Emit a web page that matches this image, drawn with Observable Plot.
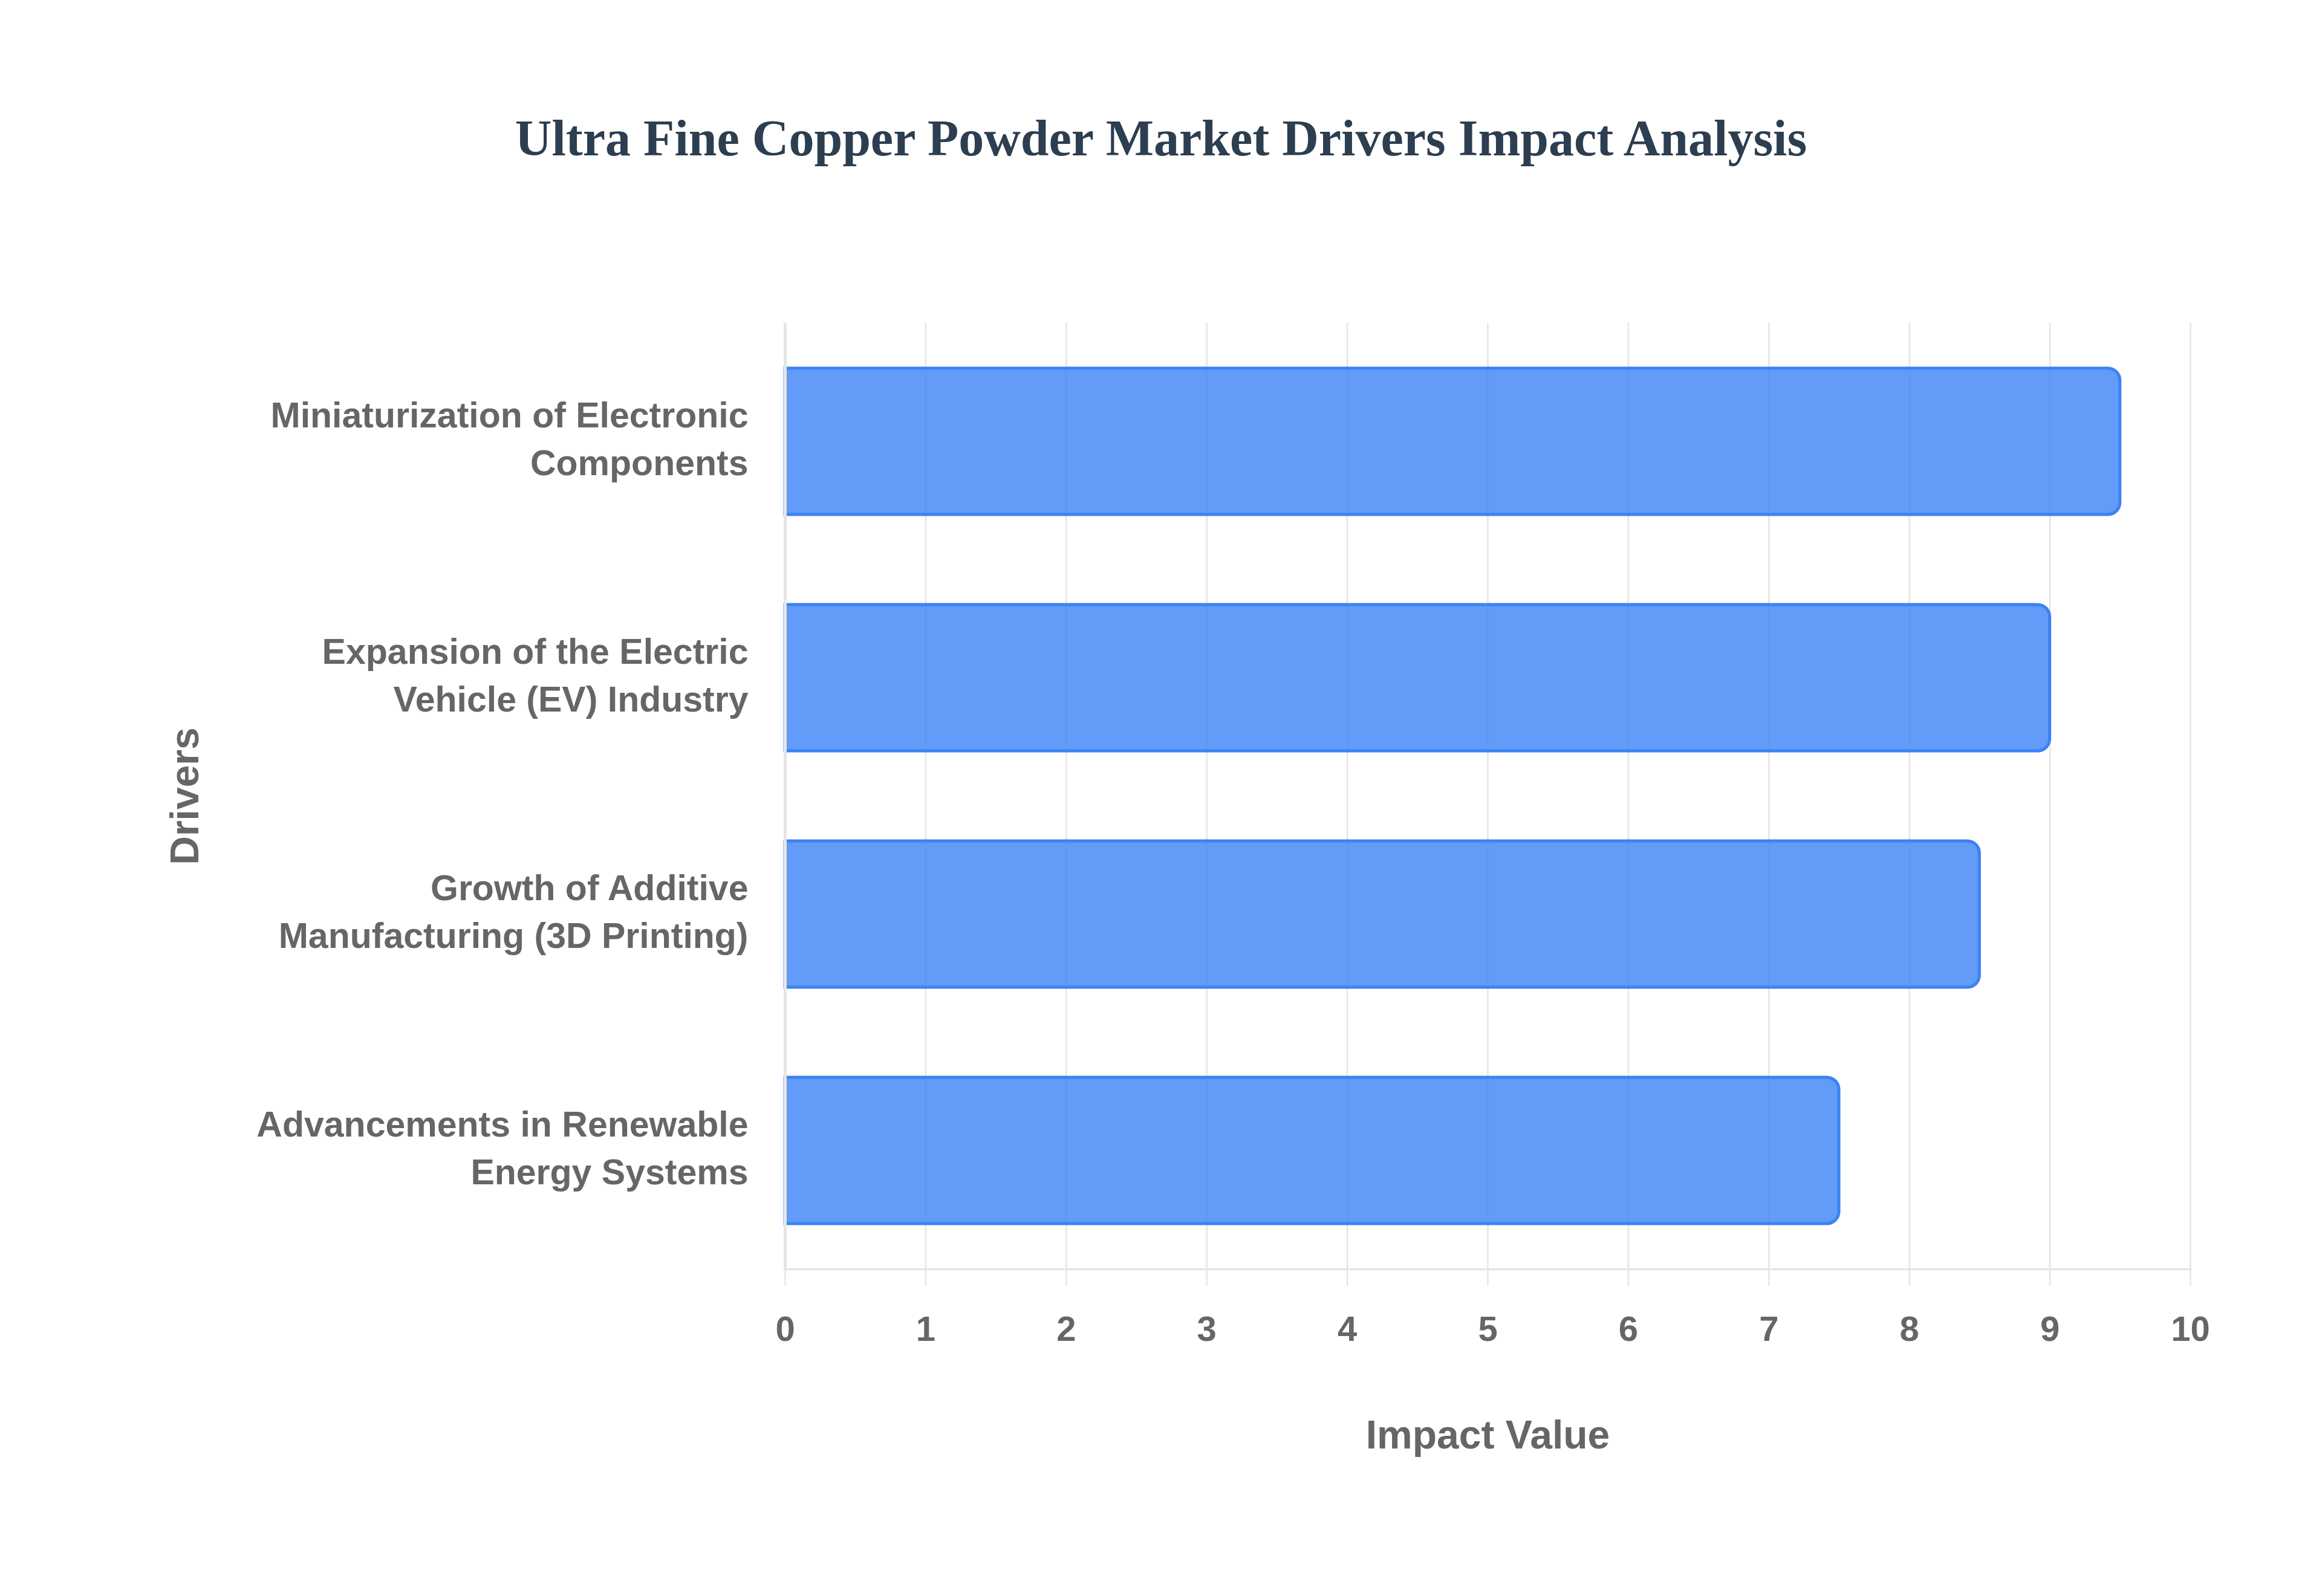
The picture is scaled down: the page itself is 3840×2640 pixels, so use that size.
<!DOCTYPE html>
<html>
<head>
<meta charset="utf-8">
<script src="https://cdn.jsdelivr.net/npm/d3@7"></script>
<script src="https://cdn.jsdelivr.net/npm/@observablehq/plot@0.6"></script>
<style>
  html, body { margin: 0; padding: 0; background: #ffffff; }
  #title {
    width: 3840px; height: 456px;
    display: flex; align-items: center; justify-content: center;
    font-family: "Liberation Serif", "Times New Roman", serif;
    font-weight: bold; font-size: 84px; color: #2c3e50;
  }
</style>
</head>
<body>
<div id="title">Ultra Fine Copper Powder Market Drivers Impact Analysis</div>
<div id="chart"></div>
<script>
const drivers = [
  "Miniaturization of Electronic Components",
  "Expansion of the Electric Vehicle (EV) Industry",
  "Growth of Additive Manufacturing (3D Printing)",
  "Advancements in Renewable Energy Systems"
];
const driverLabels = [
  "Miniaturization of Electronic\nComponents",
  "Expansion of the Electric\nVehicle (EV) Industry",
  "Growth of Additive\nManufacturing (3D Printing)",
  "Advancements in Renewable\nEnergy Systems"
];
const impactValues = [9.5, 9.0, 8.5, 7.5];
const xTicks = [0, 1, 2, 3, 4, 5, 6, 7, 8, 9, 10];
const xTitle = "Impact Value";
const yTitle = "Drivers";

const data = drivers.map((d, i) => ({driver: d, value: impactValues[i]}));
const gridColor = "#e5e5e5";
const labelColor = "#666666";

const chart = Plot.plot({
  width: 3840,
  height: 2184,
  marginTop: 78,
  marginBottom: 541,
  marginLeft: 1298,
  marginRight: 218,
  style: {fontFamily: "Liberation Sans, Arial, sans-serif", background: "#ffffff"},
  x: {domain: [0, 10], axis: null},
  y: {domain: drivers, paddingInner: 0.38, paddingOuter: 0.19, axis: null},
  marks: [
    Plot.gridX(xTicks, {stroke: gridColor, strokeOpacity: 1, strokeWidth: 2.5}),
    Plot.axisX(xTicks, {
      anchor: "bottom", tickSize: 28, tickPadding: 49, stroke: gridColor, strokeOpacity: 1, strokeWidth: 2.5,
      fontSize: 58, fontWeight: "bold", fill: labelColor, label: null, tickFormat: d => String(d)
    }),
    Plot.frame({anchor: "bottom", stroke: gridColor, strokeOpacity: 1, strokeWidth: 3.5}),
    Plot.barX(data, {
      x: "value", y: "driver",
      fill: "#3b82f6", fillOpacity: 0.8,
      stroke: "#3b82f6", strokeWidth: 5,
      rx2: 20
    }),
    Plot.ruleX([0], {stroke: gridColor, strokeOpacity: 1, strokeWidth: 5}),
    Plot.axisY({
      anchor: "left", tickSize: 0, tickPadding: 61, dy: -9,
      fontSize: 59, fontWeight: "bold", fill: labelColor, lineHeight: 1.33,
      label: null, tickFormat: d => driverLabels[drivers.indexOf(d)]
    }),
    Plot.text([xTitle], {
      frameAnchor: "bottom", dy: 275, lineAnchor: "middle", textAnchor: "middle",
      fontSize: 66, fontWeight: "bold", fill: labelColor
    }),
    Plot.text([yTitle], {
      frameAnchor: "left", dx: -992, rotate: -90, lineAnchor: "middle", textAnchor: "middle",
      fontSize: 66, fontWeight: "bold", fill: labelColor
    })
  ]
});
document.getElementById("chart").appendChild(chart);
</script>
</body>
</html>
